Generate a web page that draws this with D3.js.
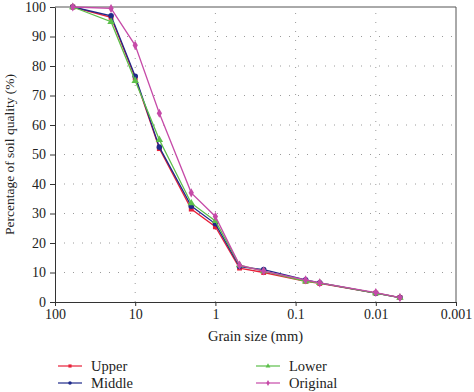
<!DOCTYPE html>
<html>
<head>
<meta charset="utf-8">
<script src="https://cdn.jsdelivr.net/npm/d3@7"></script>
<style>
  body { margin: 0; background: #fff; }
  svg text { font-family: "Liberation Serif", "DejaVu Serif", serif; fill: #222; }
</style>
</head>
<body>
<div id="chart"></div>
<script>
// Grain sizes (mm) shared by all series
const grainSizes = [60, 20, 10, 5, 2, 1, 0.5, 0.25, 0.075, 0.05, 0.01, 0.005];
const upper    = [100, 96.5, 76, 52, 31.5, 25.5, 11.5, 10, 7, 6.3, 3, 1.5];
const middle   = [100, 97, 76.5, 52.5, 32.5, 26.5, 12, 11, 7.5, 6.5, 3, 1.5];
const lower    = [100, 95, 75, 55, 33.5, 27.5, 12.5, 10.5, 7, 6.5, 3, 1.5];
const original = [100, 99.5, 87, 64, 37, 29, 12.5, 10.5, 7.5, 6.5, 3.2, 1.5];
const xTicks = [100, 10, 1, 0.1, 0.01, 0.001];
const xTickLabels = ["100", "10", "1", "0.1", "0.01", "0.001"];
const yTicks = [0, 10, 20, 30, 40, 50, 60, 70, 80, 90, 100];

const series = [
  { name: "Upper",    values: upper,    color: "#e8203a", shape: d3.symbolSquare },
  { name: "Middle",   values: middle,   color: "#1f2a8a", shape: d3.symbolCircle },
  { name: "Lower",    values: lower,    color: "#5cbf4a", shape: d3.symbolTriangle },
  { name: "Original", values: original, color: "#c64aa8", shape: d3.symbolDiamond }
];

const W = 474, H = 392;
const m = { left: 55, right: 18, top: 7, bottom: 90 };

const svg = d3.select("#chart").append("svg")
  .attr("width", W).attr("height", H);

const x = d3.scaleLog().domain([100, 0.001]).range([m.left, W - m.right]);
const y = d3.scaleLinear().domain([0, 100]).range([H - m.bottom, m.top]);

// Grid
const grid = svg.append("g").attr("stroke", "#9a9a9a").attr("stroke-width", 1)
  .attr("stroke-dasharray", "1,8");
xTicks.slice(1, -1).forEach(t => {
  grid.append("line").attr("x1", x(t)).attr("x2", x(t))
    .attr("y1", y(0)).attr("y2", y(100));
});
yTicks.slice(1, -1).forEach(t => {
  grid.append("line").attr("x1", x(100) + 9).attr("x2", x(0.001))
    .attr("y1", y(t)).attr("y2", y(t));
});

// Frame (top + right)
svg.append("path")
  .attr("d", `M${x(100)},${y(100)}H${x(0.001)}V${y(0)}`)
  .attr("fill", "none").attr("stroke", "#555").attr("stroke-width", 1);

// Axes
const xAxis = svg.append("g")
  .attr("transform", `translate(0,${y(0)})`)
  .call(d3.axisBottom(x).tickValues(xTicks)
    .tickFormat((d, i) => xTickLabels[i]).tickSizeInner(4).tickSizeOuter(0).tickPadding(3));
const yAxis = svg.append("g")
  .attr("transform", `translate(${x(100)},0)`)
  .call(d3.axisLeft(y).tickValues(yTicks).tickSizeInner(5).tickSizeOuter(0).tickPadding(4));
[xAxis, yAxis].forEach(a => {
  a.select(".domain").attr("stroke", "#333");
  a.selectAll(".tick line").attr("stroke", "#333");
  a.selectAll(".tick text").attr("font-size", 14).attr("fill", "#222")
    .style("font-family", "Liberation Serif, serif");
});

// Axis titles
svg.append("text")
  .attr("x", (x(100) + x(0.001)) / 2).attr("y", 341)
  .attr("text-anchor", "middle").attr("font-size", 14.5)
  .text("Grain size (mm)");
svg.append("text")
  .attr("transform", `translate(14,${(y(0) + y(100)) / 2}) rotate(-90)`)
  .attr("text-anchor", "middle").attr("font-size", 13.5)
  .text("Percentage of soil quality (%)");

// Lines + markers
const line = d3.line().x(d => x(d[0])).y(d => y(d[1]));
series.forEach(s => {
  const pts = grainSizes.map((g, i) => [g, s.values[i]]);
  svg.append("path").datum(pts)
    .attr("d", line).attr("fill", "none")
    .attr("stroke", s.color).attr("stroke-width", 1.3);
  svg.append("g").selectAll("path").data(pts).join("path")
    .attr("transform", d => `translate(${x(d[0])},${y(d[1])})`)
    .attr("d", d3.symbol(s.shape, 24))
    .attr("fill", s.color);
});

// Legend
const legPos = [[58, 366], [58, 383], [256, 366], [256, 383]];
series.forEach((s, i) => {
  const [lx, ly] = legPos[i];
  const g = svg.append("g").attr("transform", `translate(${lx},${ly})`);
  g.append("line").attr("x1", 0).attr("x2", 24).attr("stroke", s.color).attr("stroke-width", 1.2);
  g.append("path").attr("transform", "translate(12,0)")
    .attr("d", d3.symbol(s.shape, 10)).attr("fill", s.color);
  g.append("text").attr("x", 33).attr("dy", "0.35em").attr("font-size", 14.5).text(s.name);
});
</script>
</body>
</html>
